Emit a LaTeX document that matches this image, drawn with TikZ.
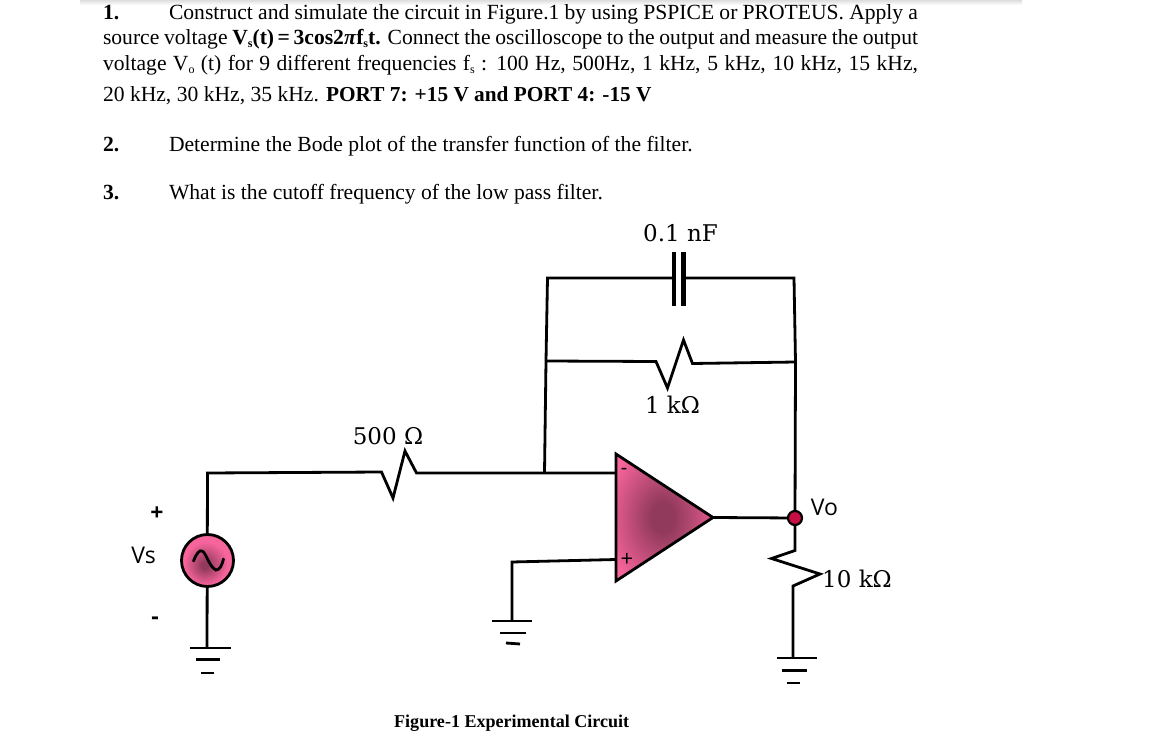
\documentclass[tikz,border=0pt]{standalone}
\usepackage{fontspec}
\setmainfont{Liberation Serif}
\newfontfamily\labfont{Open Sans}
\newfontfamily\valfont{DejaVu Serif}
\definecolor{pinkout}{HTML}{F8659C}
\definecolor{pinkin}{HTML}{923A5C}
\definecolor{dotred}{HTML}{C80F45}
\pgfdeclareradialshading{ampshade}{\pgfpoint{-1bp}{0bp}}{color(0bp)=(pinkin); color(6bp)=(pinkin); color(31bp)=(pinkout); color(50bp)=(pinkout)}
\pgfdeclareradialshading{srcshade}{\pgfpoint{-3bp}{-5bp}}{color(0bp)=(pinkin); color(3bp)=(pinkin); color(21bp)=(pinkout); color(50bp)=(pinkout)}
\newcommand{\bodysize}{\fontsize{21.6}{25}\selectfont}
\newcommand{\lowsub}[1]{\raisebox{-2.5pt}{\fontsize{12}{12}\selectfont #1}}
\tikzset{
  wire/.style={line width=2.8pt,line join=miter,black},
  plate/.style={line width=4.6pt,black},
  bodyline/.style={anchor=base west,inner sep=0pt,outer sep=0pt,font=\bodysize},
  vallabel/.style={inner sep=0pt,font=\valfont\fontsize{23}{25}\selectfont},
  signlabel/.style={inner sep=0pt,font=\labfont\fontsize{23}{25}\selectfont},
  caption/.style={anchor=base west,inner sep=0pt,font=\bfseries\fontsize{18.05}{20}\selectfont}
}
\begin{document}
\begin{tikzpicture}[x=1pt,y=-1pt]
\useasboundingbox (0,0) rectangle (1152,741);
\fill[white] (0,0) rectangle (1152,741);
\shade[top color=black!13,bottom color=white] (80,0) rectangle (1022,5);

% text
\node[bodyline,font=\bodysize\bfseries] (n1) at (103,20) {1.};
\node[bodyline] (l1) at (169,20) {\makebox[749pt][s]{Construct and simulate the circuit in Figure.1 by using PSPICE or PROTEUS. Apply a}};
\node[bodyline] (l2) at (103,45) {\makebox[815pt][s]{source voltage \textbf{V\lowsub{s}(t)\,=\,3cos2\textit{π}f\lowsub{s}t.} Connect the oscilloscope to the output and measure the output}};
\node[bodyline] (l3) at (103,71) {\makebox[815pt][s]{voltage V\lowsub{o} (t) for 9 different frequencies f\lowsub{s} : 100 Hz, 500Hz, 1 kHz, 5 kHz, 10 kHz, 15 kHz,}};
\node[bodyline] (l4) at (103,102) {20 kHz, 30 kHz, 35 kHz. {\fontsize{21.3}{25}\selectfont\bfseries PORT 7: +15 V and PORT 4: -15 V}};
\node[bodyline,font=\bodysize\bfseries] (n2) at (103,152) {2.};
\node[bodyline] (l5) at (169,152) {Determine the Bode plot of the transfer function of the filter.};
\node[bodyline,font=\bodysize\bfseries] (n3) at (103,200) {3.};
\node[bodyline] (l6) at (169,200) {What is the cutoff frequency of the low pass filter.};
\node[caption] (cap) at (394,727) {Figure-1 Experimental Circuit};

% value labels
\node[vallabel] (lc) at (680.5,233) {0.1 nF};
\node[vallabel] (lr1) at (672.5,405) {1 kΩ};
\node[vallabel] (lr2) at (388,436) {500 Ω};
\node[vallabel] (lr3) at (857,579) {10 kΩ};
\node[signlabel] (lvo) at (824.5,507) {Vo};
\node[signlabel] (lvs) at (143.5,555) {Vs};
\node[signlabel,font=\labfont\bfseries\fontsize{23}{25}\selectfont] (lp) at (157,514) {+};
\node[signlabel,font=\labfont\bfseries\fontsize{23}{25}\selectfont] (lm) at (155,621) {-};

% key points
\coordinate (a1) at (207.5,473);
\coordinate (r2a) at (381.5,472);
\coordinate (r2b) at (393,498);
\coordinate (r2c) at (405,451);
\coordinate (r2d) at (416.5,473);
\coordinate (j1) at (544.5,473);
\coordinate (tl) at (547.5,278);
\coordinate (ml) at (546,361);
\coordinate (tr) at (794,278);
\coordinate (mr) at (795.5,362);
\coordinate (c1) at (674,278);
\coordinate (c2) at (683.5,278);
\coordinate (r1a) at (656,361.5);
\coordinate (r1b) at (667.5,388);
\coordinate (r1c) at (683.5,340);
\coordinate (r1d) at (692.5,363.5);
\coordinate (ampt) at (616,454);
\coordinate (ampb) at (616,581);
\coordinate (ampo) at (713,517.5);
\coordinate (ampm) at (616,473);
\coordinate (ampp) at (616,559.5);
\coordinate (g2) at (512,562);
\coordinate (g2b) at (512,621);
\coordinate (vo) at (795,518);
\coordinate (r3a) at (795,550.5);
\coordinate (r3b) at (771.5,558.5);
\coordinate (r3c) at (820,574);
\coordinate (r3d) at (793,586);
\coordinate (g3b) at (793,658);
\coordinate (g1b) at (207,648);

% feedback
\draw[wire] (j1) -- (ml) -- (tl) -- (c1);
\draw[wire] (c2) -- (tr) -- (mr) -- (vo);
\draw[plate] (674,252) -- (674,305.5);
\draw[plate] (683.5,252) -- (683.5,305.5);
\draw[wire] (ml) -- (r1a) -- (r1b) -- (r1c) -- (r1d) -- (mr);

% input
\draw[wire] (g1b) -- (a1) -- (r2a) -- (r2b) -- (r2c) -- (r2d) -- (ampm);

% op amp
\path[draw=black,line width=2.8pt,line join=miter,shading=ampshade] (ampt) -- (ampo) -- (ampb) -- cycle;
\node[inner sep=0pt,font=\labfont\fontsize{20}{20}\selectfont] (ampminus) at (624,471) {-};
\node[inner sep=0pt,font=\labfont\fontsize{22}{22}\selectfont] (ampplus) at (627,560) {+};

% non-inverting to ground
\draw[wire] (ampp) -- (g2) -- (g2b);

% output
\draw[wire] (ampo) -- (vo);
\draw[wire] (vo) -- (r3a) -- (r3b) -- (r3c) -- (r3d) -- (g3b);
\node[circle,draw=black,line width=2.2pt,fill=dotred,minimum size=14pt,inner sep=0pt] (vodot) at (vo) {};

% source
\node[circle,draw=black,line width=2.8pt,minimum size=52pt,inner sep=0pt,shading=srcshade] (src) at (207.5,560.5) {};
\draw[line width=2.8pt,line cap=round] (193.5,561) .. controls (197,552) and (200,550) .. (202,551) .. controls (206,552) and (209,567) .. (216,570) .. controls (220,570) and (222,565) .. (223.5,559);

% grounds
\draw[wire] (g1b) +(-17,0) -- +(24,0);
\draw[wire] (196,659.5) -- (220,659.5);
\draw[wire] (201,673) -- (213.5,673);
\draw[wire] (g2b) +(-20,0) -- +(20,0);
\draw[wire] (500,633) -- (526,633);
\draw[wire] (506,643) -- (520,644);
\draw[wire] (g3b) +(-16,0) -- +(24,0);
\draw[wire] (781.5,670.5) -- (807,670.5);
\draw[wire] (786.5,683) -- (800,683);
\end{tikzpicture}
\end{document}
